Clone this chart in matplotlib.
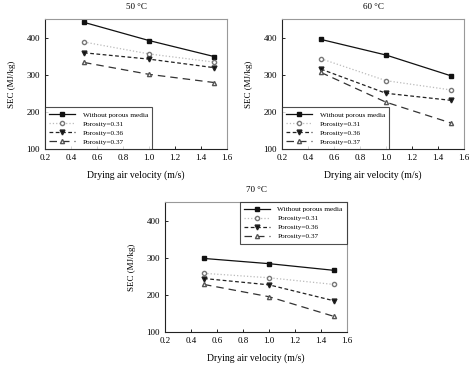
"""SEC vs drying air velocity at three drying temperatures."""

import matplotlib
matplotlib.use("Agg")
import matplotlib.pyplot as plt

plt.rcParams["font.family"] = ["Liberation Serif", "DejaVu Serif"]

velocity = [0.5, 1.0, 1.5]
temperatures = ["50 °C", "60 °C", "70 °C"]
series_labels = ["Without porous media", "Porosity=0.31", "Porosity=0.36", "Porosity=0.37"]

# SEC (MJ/kg) per temperature, one list per series
sec_50 = [
    [441, 392, 349],
    [388, 356, 334],
    [359, 342, 319],
    [333, 301, 279],
]
sec_60 = [
    [395, 353, 297],
    [343, 284, 259],
    [315, 250, 231],
    [306, 226, 170],
]
sec_70 = [
    [298, 284, 266],
    [258, 246, 228],
    [244, 227, 184],
    [228, 195, 142],
]

styles = [
    dict(color="#111111", ls="-", lw=0.9, marker="s", ms=3, mfc="#111111"),
    dict(color="#bbbbbb", ls=":", lw=0.9, marker="o", ms=3, mfc="white", mec="#777777"),
    dict(color="#222222", ls=(0, (3, 2)), lw=0.9, marker="v", ms=3.5, mfc="#111111"),
    dict(color="#333333", ls=(0, (6, 4)), lw=0.9, marker="^", ms=3, mfc="white", mec="#555555"),
]

W, H = 474, 368
fig = plt.figure(figsize=(W / 100, H / 100), dpi=100)

panels = [
    (sec_50, [45 / W, 1 - 149 / H, 182 / W, 130 / H], "lower left"),
    (sec_60, [282 / W, 1 - 149 / H, 182 / W, 130 / H], "lower left"),
    (sec_70, [165 / W, 1 - 332 / H, 182 / W, 130 / H], "upper right"),
]

for (data, rect, legend_loc), title in zip(panels, temperatures):
    ax = fig.add_axes(rect)
    for values, label, st in zip(data, series_labels, styles):
        ax.plot(velocity, values, label=label, **st)
    ax.set_xlim(0.2, 1.6)
    ax.set_ylim(100, 450)
    ax.set_xticks([0.2, 0.4, 0.6, 0.8, 1.0, 1.2, 1.4, 1.6])
    ax.set_yticks([100, 200, 300, 400])
    ax.set_xticklabels([f"{t:.1f}" for t in ax.get_xticks()])
    ax.tick_params(direction="in", labelsize=6.5, length=2, width=0.6)
    for side in ("top", "right"):
        ax.spines[side].set_color("#999999")
    for side in ("left", "bottom"):
        ax.spines[side].set_color("#222222")
    for sp in ax.spines.values():
        sp.set_linewidth(0.8)
    ax.set_title(title, fontsize=6.5, pad=7)
    ax.set_xlabel("Drying air velocity (m/s)", fontsize=7, labelpad=6)
    ax.set_ylabel("SEC (MJ/kg)", fontsize=6.5, labelpad=8)
    leg = ax.legend(loc=legend_loc, fontsize=5.2, frameon=True, fancybox=False,
                    borderaxespad=0.0, handlelength=3.6, labelspacing=0.4,
                    borderpad=0.6, handletextpad=1.0)
    leg.get_frame().set_edgecolor("#222222")
    leg.get_frame().set_linewidth(0.8)

fig.savefig("out.png", dpi=100)
